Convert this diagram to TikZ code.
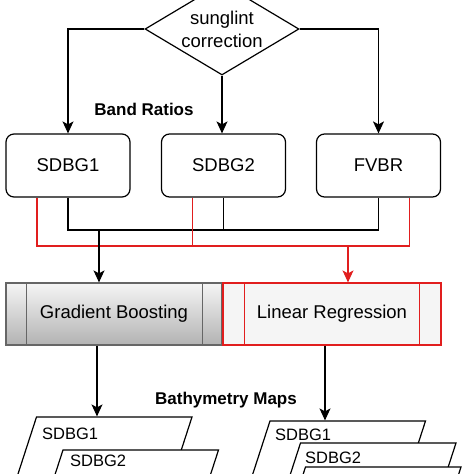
\documentclass[tikz,border=0pt]{standalone}
\usepackage{fontspec}
\setmainfont{Liberation Sans}
\usetikzlibrary{shapes.geometric,arrows.meta}
\definecolor{linered}{RGB}{225,30,30}
\definecolor{boxgrey}{HTML}{666666}
\definecolor{lrfill}{HTML}{F5F5F5}

\begin{document}
\begin{tikzpicture}[x=1pt,y=-1pt,
        every node/.style = {font=\fontsize{18.5}{23}\selectfont},
        arr/.style = {-{Stealth[length=12pt,width=11pt,inset=3pt]}, line width=1.2pt},
        ratio/.style = {draw, line width=1.2pt, rounded corners=8pt,
            minimum width=124pt, minimum height=63pt},
        proc/.style = {draw, line width=1.2pt, minimum width=216pt, minimum height=62pt},
        map/.style = {draw, fill=white, line width=1.2pt, trapezium,
            trapezium left angle=72, trapezium right angle=108,
            inner xsep=68pt, inner ysep=30pt},
        maplabel/.style = {anchor=west, inner sep=0pt, font=\fontsize{16.5}{20}\selectfont},
        title/.style = {font=\fontsize{17}{20}\selectfont\bfseries}]
    \useasboundingbox (0,0) rectangle (474,474);
    \clip (0,0) rectangle (474,474);

    % correction and band ratios
    \node[draw, diamond, line width=1.2pt, aspect=1.67, minimum width=154pt,
        minimum height=92pt, inner sep=0pt, align=center] (sun) at (222,29) {sunglint\\correction};
    \node[title] (bands) at (144,109) {Band Ratios};
    \node[ratio] (sdbg1) at (68,165.5) {SDBG1};
    \node[ratio] (sdbg2) at (223.5,165.5) {SDBG2};
    \node[ratio] (fvbr) at (378.5,165.5) {FVBR};

    \draw[arr] (sun.west) -| (sdbg1.north);
    \draw[arr] (sun.south) -- (sun.south |- sdbg2.north);
    \draw[arr] (sun.east) -| (fvbr.north);

    % models
    \node[proc, draw=boxgrey, top color=lrfill, bottom color=black!30] (gb) at (114,314) {Gradient Boosting};
    \node[proc, draw=linered, fill=lrfill, minimum width=218pt] (lr) at (332,314) {Linear Regression};
    \draw[boxgrey, line width=1.2pt] ([xshift=21pt]gb.north west) -- ([xshift=21pt]gb.south west);
    \draw[boxgrey, line width=1.2pt] ([xshift=-20pt]gb.north east) -- ([xshift=-20pt]gb.south east);
    \draw[linered, line width=1.2pt] ([xshift=22pt]lr.north west) -- ([xshift=22pt]lr.south west);
    \draw[linered, line width=1.2pt] ([xshift=-22pt]lr.north east) -- ([xshift=-22pt]lr.south east);

    \coordinate (blk) at (99,230);
    \coordinate (rd) at (348,246);
    \draw[line width=1.2pt] (sdbg1.south) |- (blk) -| (fvbr.south);
    \draw[line width=1.2pt] (sdbg2.south) -- (sdbg2.south |- blk);
    \draw[linered, line width=1.2pt] ([xshift=-31pt]sdbg1.south) |- (rd) -| ([xshift=31pt]fvbr.south);
    \draw[linered, line width=1.2pt] ([xshift=-31pt]sdbg2.south) -- ([xshift=-31pt]sdbg2.south |- rd);
    \draw[arr] (blk) -- (blk |- gb.north);
    \draw[arr, linered] (rd) -- (rd |- lr.north);

    % bathymetry maps
    \node[title] (maps) at (226,400) {Bathymetry Maps};
    \node[map] (gbmap1) at (104.5,447) {};
    \node[maplabel] (gblabel1) at (42,434) {SDBG1};
    \node[map] (gbmap2) at (131,480) {};
    \node[maplabel] (gblabel2) at (70,461) {SDBG2};
    \node[map] (lrmap1) at (338,451) {};
    \node[maplabel] (lrlabel1) at (275,435) {SDBG1};
    \node[map] (lrmap2) at (368.5,473) {};
    \node[maplabel] (lrlabel2) at (305,458) {SDBG2};
    \node[map] (lrmap3) at (373.5,497) {};

    \draw[arr] ([xshift=-17pt]gb.south) -- ([xshift=-17pt]gb.south |- gbmap1.north);
    \draw[arr] ([xshift=-7pt]lr.south) -- ([xshift=-7pt]lr.south |- lrmap1.north);
\end{tikzpicture}
\end{document}
